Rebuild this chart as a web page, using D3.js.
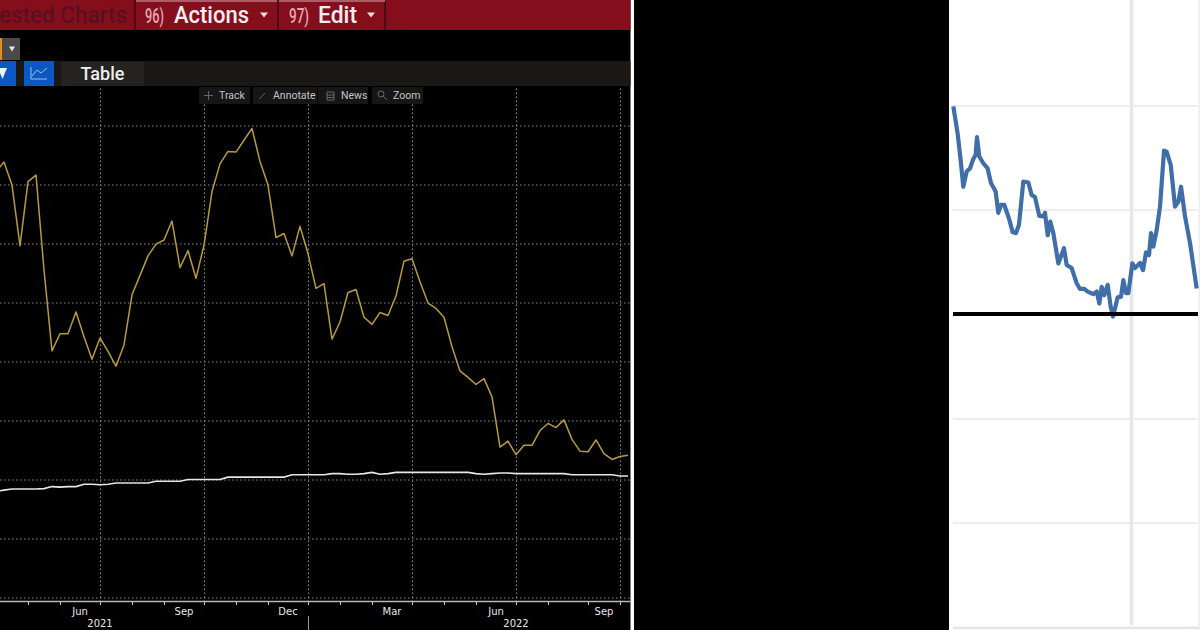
<!DOCTYPE html>
<html><head><meta charset="utf-8">
<script src="https://cdn.jsdelivr.net/npm/d3@7"></script>
<style>html,body{margin:0;padding:0;background:#000}svg{display:block}</style>
</head><body><svg id="c" width="1200" height="630"></svg>
<script>
// ---- left panel data (weekly, Fridays) ----
const firstWeek = "2021-04-02";
const goldValues = [72.2,73.8,69.9,59.6,70.5,71.6,55.5,41.8,44.7,44.7,48.4,44.2,40.4,44.0,41.7,39.2,42.8,51.3,54.6,57.9,59.9,60.6,63.8,55.9,58.8,54.1,59.7,68.8,73.5,75.6,75.5,77.5,79.5,73.9,69.9,61.0,61.7,57.9,62.9,58.3,52.4,53.2,43.8,46.7,51.7,52.2,47.5,46.3,48.3,47.8,51.1,57.0,57.4,53.5,49.9,49.0,47.5,42.5,38.4,37.3,36.1,37.1,34.0,25.5,26.5,24.2,25.8,25.8,28.3,29.5,28.8,30.1,26.8,24.8,24.7,26.7,24.4,23.4,23.9,24.1];
const whiteValues = [18.0,18.2,18.4,18.4,18.4,18.4,18.45,18.8,18.7,18.8,18.8,19.2,19.2,19.1,19.2,19.4,19.4,19.4,19.4,19.4,19.7,19.7,19.7,19.7,20.0,20.0,20.0,20.0,20.0,20.4,20.4,20.4,20.4,20.4,20.4,20.4,20.4,20.8,20.8,20.8,20.8,20.8,21.0,21.0,20.9,20.9,21.0,21.2,20.9,21.0,21.2,21.2,21.2,21.2,21.2,21.2,21.2,21.2,21.2,21.2,21.0,20.9,21.0,21.1,21.1,21.0,21.0,21.0,21.0,21.0,21.0,21.0,20.8,20.8,20.8,20.8,20.8,20.8,20.6,20.6];
const yGridValues = [0,10,20,30,40,50,60,70,80];
const quarterDates = ["2021-07-02","2021-10-01","2021-12-31","2022-04-01","2022-07-01","2022-09-30"];
const monthTicks = ["2021-04-30","2021-05-28","2021-07-02","2021-07-30","2021-08-27","2021-10-01","2021-10-29","2021-11-26","2021-12-31","2022-01-28","2022-02-25","2022-04-01","2022-04-29","2022-05-27","2022-07-01","2022-07-29","2022-09-02","2022-09-30"];
const monthLabels = [["Jun","2021-05-28","2021-07-02"],["Sep","2021-08-27","2021-10-01"],["Dec","2021-11-26","2021-12-31"],["Mar","2022-02-25","2022-04-01"],["Jun","2022-05-27","2022-07-01"],["Sep","2022-09-02","2022-09-30"]];
const yearLabels = [["2021","2021-07-02"],["2022","2022-07-01"]];
const yearBreak = "2021-12-31";
const toolItems = ["Track","Annotate","News","Zoom"];

// ---- right panel data ----
const blueTimes = [0,1.3,2.2,3,4,5,6,6.7,7.1,7.8,9,10.3,11.3,12.7,13.5,14.3,15.3,16.7,17.8,18.8,19.7,21,22.5,23.5,24.5,25.8,27.1,27.5,28.3,29.1,30,31.5,33.2,34,35.5,37,38,39.3,40.3,42,43,43.8,44.5,45.3,46.3,47.2,47.9,49.3,50.3,51,51.8,52.5,53.7,54.5,56,56.9,57.8,58.7,59.3,60,61,62,63.2,64,65.2,66.5,67.5,68.3,69.5,71,73];
const blueValues = [3.98,3.46,2.95,2.44,2.73,2.79,2.97,3.05,3.39,3.02,2.89,2.79,2.51,2.35,1.94,2.09,2.09,1.83,1.57,1.55,1.71,2.54,2.52,2.28,2.24,1.88,1.87,1.94,1.51,1.77,1.55,0.97,1.26,0.94,0.88,0.59,0.48,0.48,0.43,0.38,0.43,0.20,0.52,0.36,0.56,0.14,-0.05,0.32,0.33,0.65,0.40,0.40,0.97,0.88,0.98,0.84,1.18,1.13,1.55,1.29,1.61,2.06,3.13,3.11,2.86,2.06,2.15,2.44,1.87,1.36,0.49];
const blueYGrid = [-6,-4,-2,2,4];
const blueXGrid = [53.3];

const svg = d3.select("#c");
const dp = d3.utcParse("%Y-%m-%d");
const week0 = dp(firstWeek);
const weeks = goldValues.map((_, i) => d3.utcWeek.offset(week0, i));
const defs = svg.append("defs");
defs.append("clipPath").attr("id","leftClip").append("rect").attr("width",630.5).attr("height",630);

// backgrounds
svg.append("rect").attr("width",1200).attr("height",630).attr("fill","#000");
svg.append("rect").attr("x",630.5).attr("width",3.5).attr("height",630).attr("fill","#fff");
svg.append("rect").attr("x",949).attr("width",251).attr("height",630).attr("fill","#fff");

const L = svg.append("g").attr("clip-path","url(#leftClip)");
const x = d3.scaleUtc().domain([week0, d3.utcWeek.offset(week0,79)]).range([-4,628]);
const y = d3.scaleLinear().domain([0,80]).range([597.5,125.5]);

// grid via axes
const gy = L.append("g").call(d3.axisRight(y).tickValues(yGridValues).tickSize(631).tickFormat(""));
gy.select(".domain").remove();
gy.selectAll("line").attr("stroke","#8a8a8a").attr("stroke-width",1).attr("stroke-dasharray","1.5 2.5");
const gx = L.append("g").attr("transform","translate(0,602)").call(d3.axisTop(x).tickValues(quarterDates.map(dp)).tickSize(516).tickFormat(""));
gx.select(".domain").remove();
gx.selectAll("line").attr("stroke","#8a8a8a").attr("stroke-width",1).attr("stroke-dasharray","1.5 2.5");

// toolbars
L.append("rect").attr("width",631).attr("height",30).attr("fill","#850e1d");
const barSeps = [135,278,385];
L.selectAll(".sep").data(barSeps).join("rect").attr("x",d=>d-1).attr("y",0).attr("width",2).attr("height",30).attr("fill","#4e0a14");
L.append("rect").attr("x",136).attr("width",141).attr("height",2).attr("fill","#a85f68");
L.append("rect").attr("x",279).attr("width",106).attr("height",2).attr("fill","#a85f68");
const head = (t,xp,len,fill,size) => L.append("text").attr("x",xp).attr("y",23).attr("font-family","Roboto, sans-serif").attr("font-size",size).attr("font-weight",500).attr("fill",fill).attr("textLength",len).attr("lengthAdjust","spacingAndGlyphs").text(t);
head("ested Charts",-1,128,"#581020",24);
head("96)",145,19,"#e6a8ae",20);
head("Actions",174,75,"#f6eef0",24);
head("97)",289,20,"#e6a8ae",20);
head("Edit",318,39,"#f6eef0",24);
const tri = (cx,cy,w,h,f) => L.append("path").attr("d",`M${cx-w/2},${cy-h/2}L${cx+w/2},${cy-h/2}L${cx},${cy+h/2}Z`).attr("fill",f);
tri(264,15,8,5,"#eadde0"); tri(371,15,8,5,"#eadde0");

L.append("rect").attr("x",0).attr("y",38).attr("width",2.5).attr("height",22).attr("fill","#e08a2a");
L.append("rect").attr("x",2.5).attr("y",38).attr("width",17.5).attr("height",22).attr("fill","#4a4a4a");
tri(12,49,6,5,"#e8e8e8");
L.append("rect").attr("x",0).attr("y",61).attr("width",631).attr("height",25).attr("fill","#1a1815");
L.append("rect").attr("x",0).attr("y",61).attr("width",16).attr("height",25).attr("fill","#0b57c4");
L.append("path").attr("d","M-2,68L7,68L2.5,79Z").attr("fill","#f2f2f2");
L.append("rect").attr("x",24).attr("y",61).attr("width",30).attr("height",25).attr("fill","#0b57c4");
L.append("path").attr("d","M31,67V79H47").attr("fill","none").attr("stroke","#9cc0ee").attr("stroke-width",1);
L.append("path").attr("d","M32,76L37,70L41,73L47,68").attr("fill","none").attr("stroke","#9cc0ee").attr("stroke-width",1);
L.append("rect").attr("x",61).attr("y",62).attr("width",83).attr("height",24).attr("fill","#242322");
L.append("text").attr("x",102.5).attr("y",79.5).attr("text-anchor","middle").attr("font-family","Roboto, sans-serif").attr("font-size",18).attr("font-weight",500).attr("fill","#eee").text("Table");

// tool pills
const toolX = [[199,51,219],[253,64,273],[318,50,341],[372,51,393]];
const toolG = L.selectAll(".tool").data(toolItems).join("g");
toolG.append("rect").attr("x",(d,i)=>toolX[i][0]).attr("y",87).attr("width",(d,i)=>toolX[i][1]).attr("height",17).attr("fill","#161616");
toolG.append("text").attr("x",(d,i)=>toolX[i][2]).attr("y",99).attr("font-family","Roboto, sans-serif").attr("font-size",10.5).attr("fill","#c4c4c4").text(d=>d);
L.append("path").attr("d","M204,95.5h9M208.5,91v9").attr("stroke","#666").attr("fill","none");
L.append("path").attr("d","M259,99L265,93").attr("stroke","#666").attr("fill","none");
L.append("path").attr("d","M327,92h7v8h-7zM327,95h7M327,97.5h7").attr("stroke","#666").attr("fill","none");
L.append("circle").attr("cx",381).attr("cy",94).attr("r",3).attr("fill","none").attr("stroke","#666");
L.append("path").attr("d","M383,96l4,4").attr("stroke","#666");

// series
const line = d3.line().x((d,i)=>x(weeks[i])).y(d=>y(d));
L.append("path").datum(whiteValues).attr("d",line).attr("fill","none").attr("stroke","#e6e6e6").attr("stroke-width",1.6);
L.append("path").datum(goldValues).attr("d",line).attr("fill","none").attr("stroke","#b89a3e").attr("stroke-width",1.5).attr("stroke-linejoin","round");

// bottom axis
const ax = L.append("g").attr("transform","translate(0,602)").call(d3.axisBottom(x).tickValues(monthTicks.map(dp)).tickSize(3).tickFormat(""));
ax.select(".domain").remove();
ax.selectAll("line").attr("stroke","#ccc");
L.append("line").attr("x1",0).attr("x2",631).attr("y1",601.5).attr("y2",601.5).attr("stroke","#b8b8b8").attr("stroke-width",1.6);
L.selectAll(".mon").data(monthLabels).join("text")
 .attr("x",d=>(x(dp(d[1]))+x(dp(d[2])))/2).attr("y",615).attr("text-anchor","middle")
 .attr("font-family","'DejaVu Sans', sans-serif").attr("font-size",10).attr("fill","#e8e8e8").text(d=>d[0]);
L.selectAll(".yr").data(yearLabels).join("text")
 .attr("x",d=>x(dp(d[1]))).attr("y",627).attr("text-anchor","middle")
 .attr("font-family","'DejaVu Sans', sans-serif").attr("font-size",10).attr("fill","#e8e8e8").text(d=>d[0]);
L.append("line").attr("x1",x(dp(yearBreak))+.5).attr("x2",x(dp(yearBreak))+.5).attr("y1",616).attr("y2",630).attr("stroke","#999");

// right panel
const rx = d3.scaleLinear().domain([0,73]).range([953.3,1196.7]);
const ry = d3.scaleLinear().domain([-6,6]).range([627,1]);
const R = svg.append("g");
const rgy = R.append("g").attr("transform","translate(953,0)").call(d3.axisRight(ry).tickValues(blueYGrid).tickSize(245).tickFormat(""));
rgy.select(".domain").remove();
rgy.selectAll("line").attr("stroke","#ebebed").attr("stroke-width",1.8);
const rgx = R.append("g").attr("transform","translate(0,625)").call(d3.axisTop(rx).tickValues(blueXGrid).tickSize(625).tickFormat(""));
rgx.select(".domain").remove();
rgx.selectAll("line").attr("stroke","#e6e7ea").attr("stroke-width",3.6);
R.append("rect").attr("x",953).attr("y",627).attr("width",247).attr("height",2).attr("fill","#dde5f0");
R.append("rect").attr("x",1198.5).attr("y",0).attr("width",1.5).attr("height",630).attr("fill","#e9eef6");
R.append("path").datum(blueValues).attr("fill","none").attr("stroke","#3f6ea8").attr("stroke-width",4.2).attr("stroke-linejoin","round")
 .attr("d",d3.line().x((d,i)=>rx(blueTimes[i])).y(d=>ry(d)));
R.append("line").attr("x1",953).attr("x2",1198).attr("y1",ry(0)).attr("y2",ry(0)).attr("stroke","#000").attr("stroke-width",4);
</script></body></html>
